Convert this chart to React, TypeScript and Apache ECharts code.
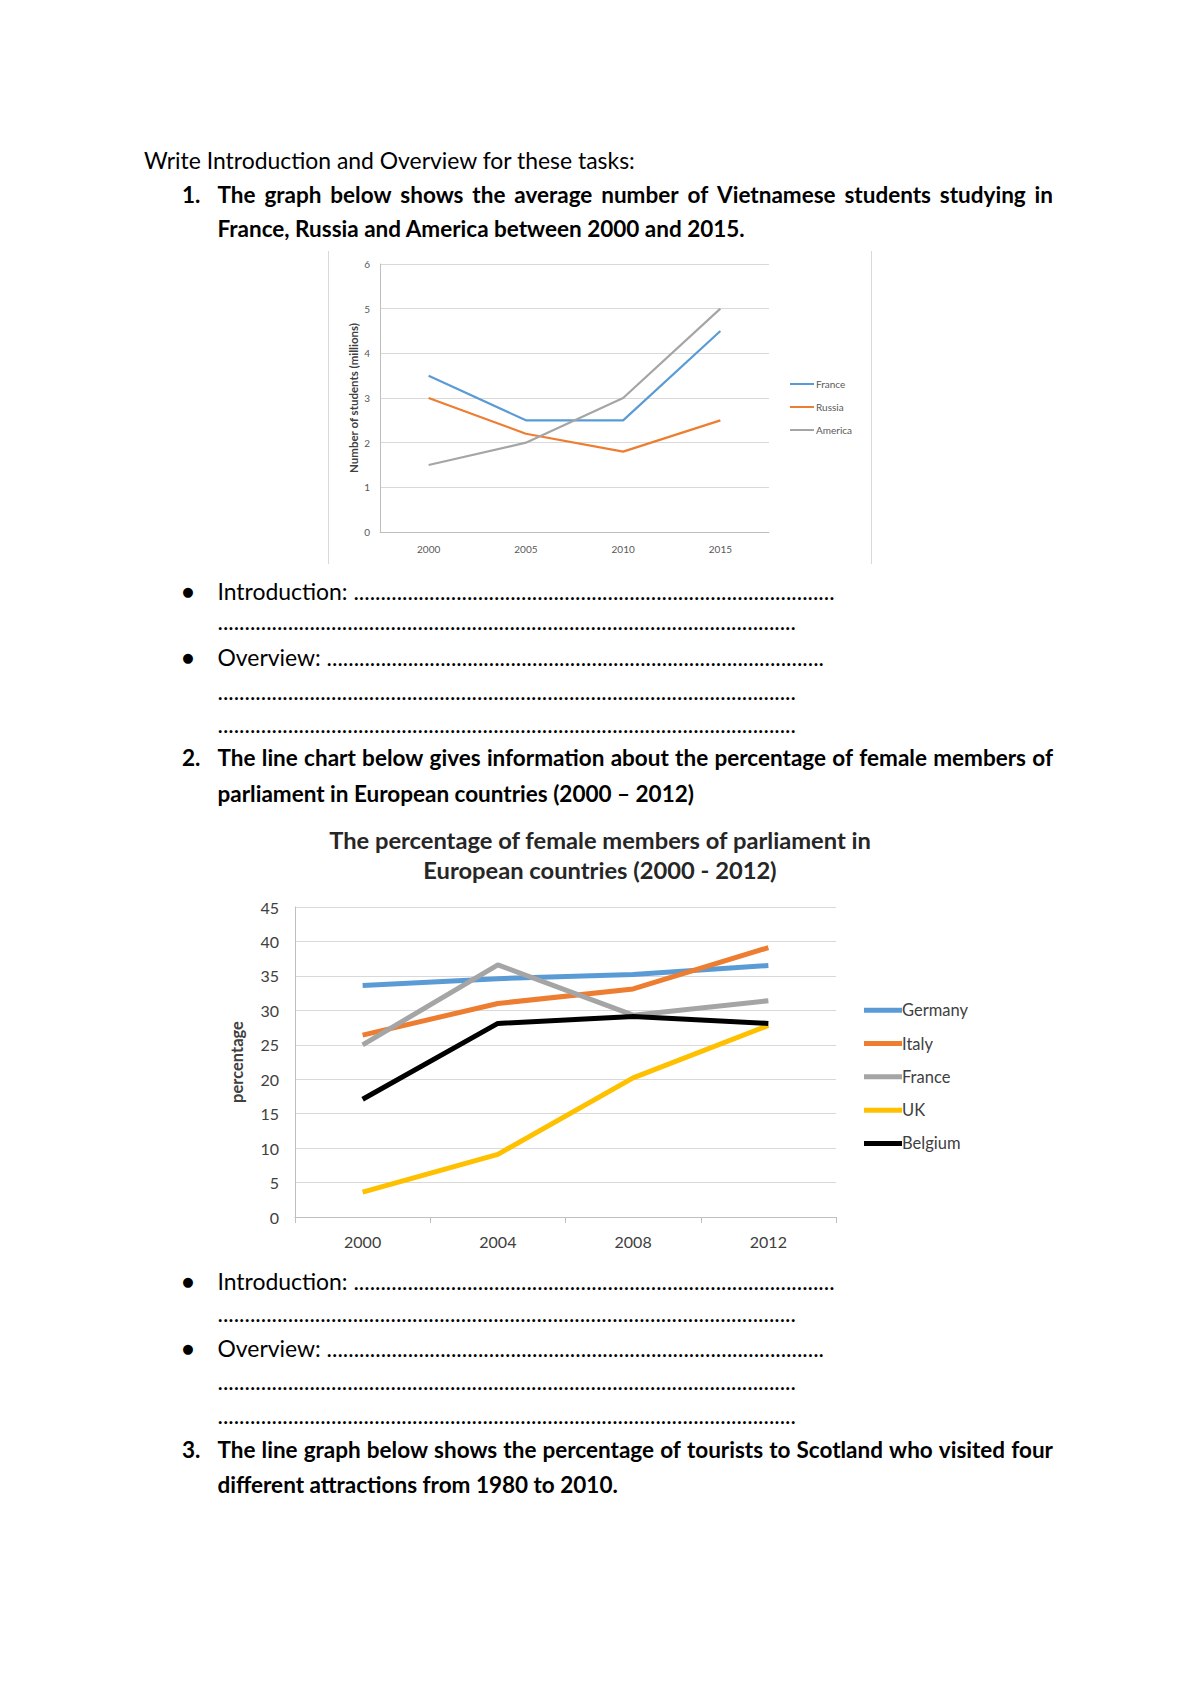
import React, { useEffect, useRef } from 'react';
import * as echarts from 'echarts';

// ---------- Chart 1 data ----------
const YEARS_1 = ['2000', '2005', '2010', '2015'];
const FRANCE_1 = [3.5, 2.5, 2.5, 4.5];
const RUSSIA_1 = [3.0, 2.2, 1.8, 2.5];
const AMERICA_1 = [1.5, 2.0, 3.0, 5.0];
const NAMES_1 = ['France', 'Russia', 'America'];
const COLORS_1 = ['#5B9BD5', '#ED7D31', '#A5A5A5'];

// ---------- Chart 2 data ----------
const YEARS_2 = ['2000', '2004', '2008', '2012'];
const GERMANY_2 = [33.6, 34.6, 35.2, 36.5];
const ITALY_2 = [26.4, 31.0, 33.1, 39.1];
const FRANCE_2 = [25.0, 36.6, 29.3, 31.4];
const UK_2 = [3.6, 9.1, 20.2, 27.8];
const BELGIUM_2 = [17.1, 28.1, 29.1, 28.1];
const NAMES_2 = ['Germany', 'Italy', 'France', 'UK', 'Belgium'];
const COLORS_2 = ['#5B9BD5', '#ED7D31', '#A5A5A5', '#FFC000', '#000000'];

// ---------- Document text ----------
const HEADER = 'Write Introduction and Overview for these tasks:';
const ITEM1_A = 'The graph below shows the average number of Vietnamese students studying in';
const ITEM1_B = 'France, Russia and America between 2000 and 2015.';
const ITEM2_A = 'The line chart below gives information about the percentage of female members of';
const ITEM2_B = 'parliament in European countries (2000 – 2012)';
const ITEM3_A = 'The line graph below shows the percentage of tourists to Scotland who visited four';
const ITEM3_B = 'different attractions from 1980 to 2010.';
const TITLE_2A = 'The percentage of female members of parliament in';
const TITLE_2B = 'European countries (2000 - 2012)';
const YNAME_1 = 'Number of students (millions)';
const YNAME_2 = 'percentage';

const FONT = 'Lato';

export default function App() {
  const ref = useRef<HTMLDivElement>(null);

  useEffect(() => {
    const el = ref.current!;
    const canvas = document.createElement('canvas');
    const ctx = canvas.getContext('2d')!;
    const measure = (t: string, size: number, bold: boolean) => {
      ctx.font = `${bold ? 'bold ' : ''}${size}px ${FONT}`;
      return ctx.measureText(t).width;
    };
    const regSize = (22 * 492) / measure(HEADER, 22, false);
    const boldSize = (22 * 528) / measure(ITEM1_B, 22, true);
    const titleSize = (21 * 543) / measure(TITLE_2A, 21, true);

    const txt = (text: string, x: number, y: number, size: number, bold: boolean, extra: any = {}) => ({
      type: 'text',
      x,
      y,
      silent: true,
      style: {
        text,
        fontSize: size,
        fontFamily: FONT,
        fontWeight: bold ? 'bold' : 'normal',
        fill: '#000000',
        align: 'left',
        verticalAlign: 'middle',
        ...extra,
      },
    });
    const justified = (text: string, x0: number, x1: number, y: number, size: number, bold: boolean) => {
      const words = text.split(' ');
      const widths = words.map((w) => measure(w, size, bold));
      const total = widths.reduce((a, b) => a + b, 0);
      const gap = (x1 - x0 - total) / (words.length - 1);
      let x = x0;
      return words.map((w, i) => {
        const e = txt(w, x, y, size, bold);
        x += widths[i] + gap;
        return e;
      });
    };
    const dots = (prefix: string, x0: number, x1: number, y: number, size: number) => {
      const pw = measure(prefix, size, false);
      const dw = measure('.', size, false);
      const n = Math.floor((x1 - x0 - pw) / dw);
      return txt(prefix + '.'.repeat(n), x0, y, size, false);
    };
    const bullet = (y: number) => txt('●', 188, y, 13, false, { align: 'center', fontFamily: 'DejaVu Sans' });

    const TX = 217.5;
    const TR = 1053;
    const bulletBlock = (ys: number[]) => [
      bullet(ys[0]),
      dots('Introduction: ', TX, 835, ys[0], regSize),
      dots('', TX, 796, ys[1], regSize),
      bullet(ys[2]),
      dots('Overview: ', TX, 829, ys[2], regSize),
      dots('', TX, 796, ys[3], regSize),
      dots('', TX, 796, ys[4], regSize),
    ];

    const graphic: any[] = [
      txt(HEADER, 144, 160, regSize, false),
      txt('1.', 182, 194, boldSize, true),
      ...justified(ITEM1_A, TX, TR, 194, boldSize, true),
      txt(ITEM1_B, TX, 228, boldSize, true),
      ...bulletBlock([591, 620.5, 657, 690.5, 723.5]),
      txt('2.', 182, 757, boldSize, true),
      ...justified(ITEM2_A, TX, TR, 757, boldSize, true),
      txt(ITEM2_B, TX, 793, boldSize, true),
      ...bulletBlock([1281, 1312.5, 1348, 1380.5, 1414.5]),
      txt('3.', 182, 1449, boldSize, true),
      ...justified(ITEM3_A, TX, TR, 1449, boldSize, true),
      txt(ITEM3_B, TX, 1484, boldSize, true),
      // frame of chart 1 image
      { type: 'line', silent: true, shape: { x1: 328.5, y1: 251, x2: 328.5, y2: 564 }, style: { stroke: '#D9D9D9', lineWidth: 1 } },
      { type: 'line', silent: true, shape: { x1: 871.5, y1: 251, x2: 871.5, y2: 564 }, style: { stroke: '#D9D9D9', lineWidth: 1 } },
    ];

    const series1 = [FRANCE_1, RUSSIA_1, AMERICA_1].map((d, i) => ({
      name: NAMES_1[i],
      type: 'line',
      xAxisIndex: 0,
      yAxisIndex: 0,
      data: d,
      symbol: 'none',
      lineStyle: { width: 2.2, color: COLORS_1[i] },
      itemStyle: { color: COLORS_1[i] },
    }));
    const series2 = [GERMANY_2, ITALY_2, FRANCE_2, UK_2, BELGIUM_2].map((d, i) => ({
      name: NAMES_2[i],
      type: 'line',
      xAxisIndex: 1,
      yAxisIndex: 1,
      data: d,
      symbol: 'none',
      lineStyle: { width: 5, color: COLORS_2[i] },
      itemStyle: { color: COLORS_2[i] },
    }));

    const chart = echarts.init(el, undefined, { renderer: 'svg' });
    chart.setOption({
      animation: false,
      backgroundColor: '#ffffff',
      title: [
        {
          text: TITLE_2A + '\n' + TITLE_2B,
          left: 600,
          top: 825,
          padding: 0,
          textAlign: 'center',
          textStyle: { fontFamily: FONT, fontWeight: 'bold', fontSize: titleSize, lineHeight: 30, color: '#262626' },
        },
      ],
      legend: [
        {
          data: NAMES_1.map((n, i) => ({ name: n, itemStyle: { color: COLORS_1[i] } })),
          orient: 'vertical',
          left: 790,
          top: 379,
          padding: 0,
          icon: 'rect',
          itemWidth: 24,
          itemHeight: 2,
          itemGap: 13,
          selectedMode: false,
          textStyle: { fontFamily: FONT, fontSize: 10, color: '#595959', padding: [0, 0, 0, -3] },
        },
        {
          data: NAMES_2.map((n, i) => ({ name: n, itemStyle: { color: COLORS_2[i] } })),
          orient: 'vertical',
          left: 864,
          top: 1001.75,
          padding: 0,
          icon: 'rect',
          itemWidth: 38,
          itemHeight: 5,
          itemGap: 16.3,
          selectedMode: false,
          textStyle: { fontFamily: FONT, fontSize: 16.5, color: '#404040', padding: [0, 0, 0, -5] },
        },
      ],
      grid: [
        { left: 380, top: 264, width: 389, height: 268 },
        { left: 295, top: 907, width: 541, height: 310 },
      ],
      xAxis: [
        {
          gridIndex: 0,
          type: 'category',
          data: YEARS_1,
          axisLine: { lineStyle: { color: '#BFBFBF' } },
          axisTick: { show: false },
          axisLabel: { margin: 12, fontSize: 10, fontFamily: FONT, color: '#595959' },
        },
        {
          gridIndex: 1,
          type: 'category',
          data: YEARS_2,
          axisLine: { lineStyle: { color: '#BFBFBF' } },
          axisTick: { show: true, length: 6, lineStyle: { color: '#BFBFBF' } },
          axisLabel: { margin: 16, fontSize: 16, fontFamily: FONT, color: '#404040' },
        },
      ],
      yAxis: [
        {
          gridIndex: 0,
          type: 'value',
          min: 0,
          max: 6,
          interval: 1,
          name: YNAME_1,
          nameLocation: 'middle',
          nameRotate: 90,
          nameGap: 21,
          nameTextStyle: { fontFamily: FONT, fontWeight: 'bold', fontSize: 11.5, color: '#404040' },
          axisLine: { show: true, lineStyle: { color: '#BFBFBF' } },
          axisTick: { show: false },
          splitLine: { lineStyle: { color: '#D9D9D9' } },
          axisLabel: { margin: 10, fontSize: 10, fontFamily: FONT, color: '#595959' },
        },
        {
          gridIndex: 1,
          type: 'value',
          min: 0,
          max: 45,
          interval: 5,
          name: YNAME_2,
          nameLocation: 'middle',
          nameRotate: 90,
          nameGap: 50,
          nameTextStyle: { fontFamily: FONT, fontWeight: 'bold', fontSize: 16.5, color: '#404040' },
          axisLine: { show: true, lineStyle: { color: '#BFBFBF' } },
          axisTick: { show: false },
          splitLine: { lineStyle: { color: '#D9D9D9' } },
          axisLabel: { margin: 16, fontSize: 16, fontFamily: FONT, color: '#404040' },
        },
      ],
      series: [...series1, ...series2],
      graphic,
    });
    return () => chart.dispose();
  }, []);

  return (
    <div
      ref={ref}
      style={{ position: 'absolute', left: 0, top: 0, width: 1200, height: 1696, background: '#ffffff' }}
    />
  );
}
